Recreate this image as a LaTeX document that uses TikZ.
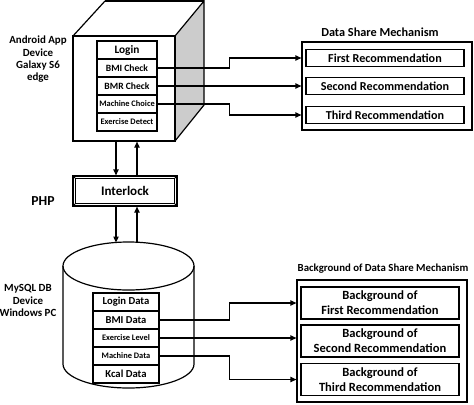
\documentclass[tikz,border=0pt]{standalone}
\usepackage{fontspec}
\setmainfont{Carlito}
\usetikzlibrary{arrows.meta}
\begin{document}
\begin{tikzpicture}[x=0.75pt,y=-0.75pt,line width=0.9pt,
  every node/.style={font=\bfseries},
  arr/.style={-{Triangle[length=4.5pt,width=4pt]}},
  cell/.style={draw, minimum width=45pt, minimum height=13.5pt, inner sep=0pt},
  dcell/.style={draw, minimum width=49.5pt, minimum height=13.5pt, inner sep=0pt},
  rec/.style={draw, minimum width=118.5pt, minimum height=12.75pt, inner sep=0pt, font=\bfseries\fontsize{9.1}{10}\selectfont},
  brec/.style={draw, minimum width=118.5pt, minimum height=24pt, inner sep=0pt, align=center, font=\bfseries\fontsize{9.4}{11.25}\selectfont},
  lab/.style={align=center, inner sep=0pt},
  fa/.style={font=\bfseries\fontsize{8.5}{10}\selectfont},
  fb/.style={font=\bfseries\fontsize{7.2}{9}\selectfont},
  fc/.style={font=\bfseries\fontsize{6.3}{8}\selectfont}
]
\useasboundingbox (0,0) rectangle (474,404);

% ---- cube ----
\fill[gray!40] (175,36)--(204,1)--(204,105)--(175,141)--cycle;
\draw (175,36)--(204,1)--(204,105)--(175,141);
\draw (73,36)--(105,1);
\draw[line width=2pt] (105,1)--(204,1);
\node[draw, minimum width=76.5pt, minimum height=78.75pt, fill=white] (cube) at (124,88.5) {};

\node[cell, fa] (login) at (127,50) {Login};
\node[cell, fb] (bmi) at (127,68) {BMI Check};
\node[cell, fb] (bmr) at (127,86) {BMR Check};
\node[cell, fc] (mach) at (127,104) {Machine Choice};
\node[cell, fc] (exd) at (127,122) {Exercise Detect};

\node[lab, font=\bfseries\fontsize{8.2}{9.25}\selectfont] (andr) at (38,59.5) {Android App\\Device\\Galaxy S6\\edge};

% ---- data share mechanism ----
\node[font=\bfseries\fontsize{9.2}{10}\selectfont] (dsmt) at (380,32) {Data Share Mechanism};
\node[draw, minimum width=127.5pt, minimum height=66pt, inner sep=0pt] (dsm) at (387,86) {};
\node[rec] (first) at (385,58) {First Recommendation};
\node[rec] (second) at (385,86) {Second Recommendation};
\node[rec] (third) at (385,115) {Third Recommendation};

\draw[arr] (bmi.east) -- ++(72,0) |- (dsm.west |- first);
\draw[arr] (bmr.east) -- (dsm.west |- bmr.east);
\draw[arr] (mach.east) -- ++(72,0) |- (dsm.west |- third);

% ---- interlock ----
\node[draw, minimum width=78pt, minimum height=22.5pt, fill=white, font=\bfseries\fontsize{9.8}{11}\selectfont] (inter) at (125,191) {Interlock};
\draw[line width=0.6pt] ([shift={(3,3)}]inter.north west) rectangle ([shift={(-3,-3)}]inter.south east);
\draw[line width=0.6pt] (inter.north west) -- ++(3,3);
\draw[line width=0.6pt] (inter.north east) -- ++(-3,3);
\draw[line width=0.6pt] (inter.south west) -- ++(3,-3);
\draw[line width=0.6pt] (inter.south east) -- ++(-3,-3);
\node[font=\bfseries\fontsize{10.3}{11}\selectfont] (php) at (43,201) {PHP};

% ---- cylinder ----
\draw[fill=white] (63,266) -- (63,364) arc[start angle=180,end angle=360,x radius=49.125pt,y radius=18pt] -- (194,266);
\draw (128.5,266) ellipse [x radius=49.125pt, y radius=18pt];
\coordinate (cyltop) at (128.5,242.5);

\coordinate (dn) at (116,0);
\coordinate (up) at (137,0);
\draw[arr] (cube.south -| dn) -- (inter.north -| dn);
\draw[arr] (inter.north -| up) -- (cube.south -| up);
\draw[arr] (inter.south -| dn) -- (dn |- cyltop);
\draw[arr] (up |- cyltop) -- (inter.south -| up);

\node[dcell, font=\bfseries\fontsize{8}{9}\selectfont] (ldata) at (126,302) {Login Data};
\node[dcell, font=\bfseries\fontsize{7.9}{9}\selectfont] (bdata) at (126,320) {BMI Data};
\node[dcell, fc] (elev) at (126,338) {Exercise Level};
\node[dcell, fc] (mdata) at (126,356) {Machine Data};
\node[dcell, font=\bfseries\fontsize{8}{9}\selectfont] (kdata) at (126,374) {Kcal Data};

\node[lab, font=\bfseries\fontsize{8.2}{9.4}\selectfont] (mysql) at (28,300.5) {MySQL DB\\Device\\Windows PC};

% ---- background ----
\node[font=\bfseries\fontsize{8.1}{9}\selectfont] (bgt) at (383,269) {Background of Data Share Mechanism};
\node[draw, minimum width=127.5pt, minimum height=91.5pt, inner sep=0pt] (bg) at (382,341) {};
\node[brec] (b1) at (380,303) {Background of\\First Recommendation};
\node[brec] (b2) at (380,341) {Background of\\Second Recommendation};
\node[brec] (b3) at (380,379.5) {Background of\\Third Recommendation};

\draw[arr] (bdata.east) -- ++(70,0) |- (bg.west |- b1);
\draw[arr] (elev.east) -- (bg.west |- elev.east);
\draw[arr] (mdata.east) -- ++(70,0) |- (bg.west |- b3);
\end{tikzpicture}
\end{document}
